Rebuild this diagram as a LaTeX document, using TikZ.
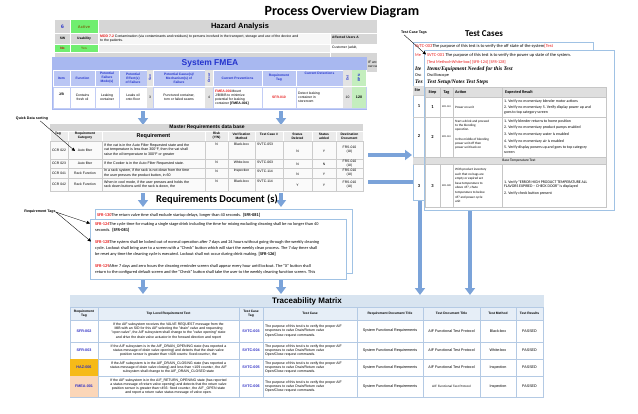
\documentclass[tikz,border=0pt]{standalone}
\usepackage{fontspec}
\setmainfont{Liberation Sans}
\newfontfamily\calib{Carlito}
\newfontfamily\tnr{Liberation Serif}
\usepackage{tikz}
\usetikzlibrary{arrows.meta, positioning, calc}
\definecolor{freccia}{RGB}{123,163,217}
\definecolor{hazgrigio}{RGB}{214,214,214}
\definecolor{hazverde}{RGB}{112,238,112}
\definecolor{hazblu}{RGB}{30,40,200}
\definecolor{fmeafondo}{RGB}{168,184,240}
\definecolor{fmeatesta}{RGB}{186,198,244}
\definecolor{fmeablu}{RGB}{36,52,205}
\definecolor{tagrosso}{RGB}{232,28,28}
\definecolor{tagblu}{RGB}{44,44,196}
\definecolor{bordodoc}{RGB}{160,194,228}
\definecolor{tracefondo}{RGB}{216,228,240}
\definecolor{tracetesta}{RGB}{230,238,247}
\definecolor{tracebordo}{RGB}{180,202,228}
\definecolor{hazarancio}{RGB}{246,186,24}
\definecolor{pesca}{RGB}{251,214,184}
\definecolor{rpnverde}{RGB}{196,238,190}
\newcommand{\fsz}[2]{\fontsize{#1}{#2}\selectfont}
\newcommand{\rosso}[1]{\textcolor{tagrosso}{#1}}
\tikzset{
  bigarrow/.style={line width=3.2pt, freccia, -{Triangle[width=10pt,length=7pt]}},
  tagline/.style={line width=0.35pt, black, -{Triangle[width=3.2pt,length=3.2pt]}},
  txt/.style={inner sep=0pt, font=\fsz{3.4}{4.1}, align=center},
  ltxt/.style={txt, align=left, anchor=west},
  hdr/.style={txt, font=\bfseries\fsz{3.3}{3.9}},
  lbl/.style={inner sep=0pt, font=\bfseries\fsz{3.6}{4.2}},
  doctxt/.style={inner sep=0pt, font=\calib\fsz{4.3}{6}, align=left, anchor=north west},
  tctxt/.style={inner sep=0pt, font=\calib\fsz{4.5}{5.5}, align=left, anchor=west},
  tcsmall/.style={inner sep=0pt, font=\calib\fsz{3.3}{4}, align=left, anchor=north west},
  tcexp/.style={inner sep=0pt, font=\calib\fsz{3.9}{4.8}, align=left, anchor=north west},
  docbox/.style={draw=bordodoc, fill=white, line width=0.6pt},
}

\begin{document}
\begin{tikzpicture}[x=1pt, y=-1pt]
    \fill[white] (0,0) rectangle (638,413);
    \useasboundingbox (0,0) rectangle (638,413);

    % titolo
    \node[font=\calib\bfseries\fsz{14}{16}] (titolo) at (342,12) {Process Overview Diagram};

    % Hazard Analysis (dietro)
    \begin{scope}
        \clip (55,20) rectangle (377,72);
        \fill[hazgrigio] (55,20) rectangle (377,72);
        \fill[hazverde] (70,20) rectangle (98,33);
        \fill[hazverde] (55,44) rectangle (98,52);
        \fill[gray!6] (98,33) rectangle (330,44);
        \fill[gray!14] (98,44) rectangle (330,52);
        \fill[white] (330,44) rectangle (377,52);
        \draw[white, line width=0.6pt] (55,33) -- (377,33) (55,44) -- (377,44) (55,52) -- (377,52)
            (70,20) -- (70,52) (98,20) -- (98,52) (330,33) -- (330,72);
        \node[font=\bfseries\fsz{5}{6}, hazblu] (hnum) at (62.5,27) {6};
        \node[font=\bfseries\fsz{4}{5}, olive!80!black] (hatt) at (84,27) {Active};
        \node[font=\bfseries\fsz{7.5}{9}] (htit) at (240,27) {Hazard Analysis};
        \node[hdr] (hsw) at (62.5,38.5) {SW};
        \node[hdr] (husa) at (84,38.5) {Usability};
        \node[ltxt, font=\fsz{3.5}{4.6}] (hdesc) at (100,38.5) {\rosso{\textbf{MDD 7.2}} Contamination (via contaminants and residues) to persons involved in the transport, storage and use of the device and\\to the patients.};
        \node[hdr, anchor=west] (hutenti) at (332,37.5) {Affected Users A};
        \node[ltxt] (hcliente) at (332,48) {Customer (adult, };
        \node[hdr, red!75!black] (hno) at (62.5,48) {No};
        \node[hdr, olive!80!black] (hsi) at (84,48) {Yes};
        \node[ltxt] (hresto) at (368,64) {IF arc\\ow ca};
    \end{scope}

    % System FMEA (davanti)
    \fill[fmeafondo] (52,57) rectangle (367,110);
    \node[font=\bfseries\fsz{8.5}{10}, fmeablu] (ftit) at (210,63.5) {System FMEA};
    \foreach \xa/\xb in {53/70,70/95,95/119,119/147,147/153,153/205,205/213,213/262,262/296,296/343,343/352,352/366}{
        \draw[white, fill=fmeatesta, line width=0.5pt] (\xa,70) rectangle (\xb,86);
        \draw[fmeafondo!70!white, fill=white, line width=0.5pt] (\xa,87) rectangle (\xb,108);
    }
    \foreach \xa/\xb in {147/153,205/213,343/352}{
        \fill[gray!22] (\xa+0.3,70.3) rectangle (\xb-0.3,85.7);
        \fill[gray!22] (\xa+0.3,87.3) rectangle (\xb-0.3,107.7);
    }
    \fill[rpnverde] (352.3,70.3) rectangle (365.7,85.7);
    \fill[rpnverde] (352.3,87.3) rectangle (365.7,107.7);
    \begin{scope}[every node/.style={hdr, fmeablu}]
        \node (fh1) at (61.5,78) {Item};
        \node (fh2) at (82.5,78) {Function};
        \node (fh3) at (107,78) {Potential\\Failure\\Mode(s)};
        \node (fh4) at (133,78) {Potential\\Effect(s)\\of Failure};
        \node[rotate=90] (fh5) at (150,78) {Sev};
        \node (fh6) at (179,78) {Potential Cause(s)/\\Mechanism(s) of\\Failure};
        \node[rotate=90] (fh7) at (209,78) {Occur};
        \node (fh8) at (237.5,78) {Current Preventions};
        \node (fh9) at (279,78) {Requirement\\Tag};
        \node (fh10) at (319.5,73.5) {Current Detections};
        \node[rotate=90] (fh11) at (347.5,78) {Det};
        \node[rotate=90] (fh12) at (359,78) {RPN};
    \end{scope}
    \node[txt, font=\bfseries\fsz{3.4}{4}] (fd1) at (61.5,94) {J/B};
    \node[txt] (fd2) at (82.5,97.5) {Contains\\fresh oil};
    \node[txt] (fd3) at (107,97.5) {Leaking\\container};
    \node[txt] (fd4) at (133,97.5) {Leaks oil\\onto floor};
    \node[txt] (fd5) at (150,97.5) {3};
    \node[txt] (fd6) at (179,97.5) {Punctured container,\\torn or failed seams};
    \node[txt] (fd7) at (209,97.5) {4};
    \node[ltxt] (fd8) at (215,97.5) {\rosso{\textbf{FMEA-001}}Mount\\J/B/B/B to minimize\\potential for leaking\\container \textbf{[FMEA-001]}};
    \node[txt, font=\bfseries\fsz{3.4}{4}, tagrosso] (fd9) at (279,97.5) {SFR-010};
    \node[ltxt] (fd10) at (298,97.5) {Detect leaking\\container in\\storeroom};
    \node[txt] (fd11) at (347.5,97.5) {10};
    \node[txt, font=\bfseries\fsz{3.6}{4}] (fd12) at (359,97.5) {120};

    % frecce FMEA -> database
    \coordinate (fa1) at (143,111); \coordinate (fa2) at (143,125);
    \coordinate (fb1) at (281,111); \coordinate (fb2) at (281,125);
    \draw[bigarrow] (fa1) -- (fa2);
    \draw[bigarrow] (fb1) -- (fb2);

    % Master Requirements data base
    \fill[gray!32] (50,124) rectangle (363,191);
    \node[font=\bfseries\fsz{5}{6}] (mtit) at (207,127.5) {Master Requirements data base};
    \foreach \xa/\xb in {50/68,68/102,102/205,205/228,228/255,255/283,283/312,312/336,336/363}{
        \draw[white, fill=gray!16, line width=0.4pt] (\xa,131) rectangle (\xb,141);
        \foreach \ya/\yb in {141/159,159/168,168/178,178/191}
            \draw[gray!40, fill=gray!4, line width=0.4pt] (\xa,\ya) rectangle (\xb,\yb);
    }
    \node[hdr] (mh1) at (58,133.5) {Tag};
    \node[hdr] (mh2) at (85,136) {Requirement\\Category};
    \node[hdr, font=\bfseries\fsz{5.5}{6}] (mh3) at (153.5,136) {Requirement};
    \node[hdr] (mh4) at (216.5,136) {Risk\\(Y/N)};
    \node[hdr] (mh5) at (241.5,136) {Verification\\Method};
    \node[hdr] (mh6) at (269,134) {Test Case \#};
    \node[hdr] (mh7) at (297.5,136) {Status\\Deleted};
    \node[hdr] (mh8) at (324,136) {Status\\added};
    \node[hdr] (mh9) at (349.5,136) {Destination\\Document};
    \foreach \yc/\yt/\tg/\ct/\req/\vm/\tc/\sd/\sa [count=\i] in {
        150/144.5/CCR 022/Auto filter/{If the vat is in the Auto Filter Requested state and the\\vat temperature is less than 300°F, then the vat shall\\raise the oil temperature to 300°F or greater}/Black-box/SVTC-053/N/Y,
        163.5/162/CCR 023/Auto filter/{If the Cooker is in the Auto Filter Requested state.}/White-box/SVTC-063/N/N,
        173/171/CCR 041/Rack Function/{In a rack system, if the rack is not down from the time\\the user presses the product button, in 60}/Inspection/SVTC-114/N/Y,
        184.5/181/CCR 042/Rack Function/{When in cool mode, if the user presses and holds the\\rack down buttons until the rack is down, the}/Black-box/SVTC-114/Y/Y}{
        \node[txt] (mt\i) at (59,\yc) {\tg};
        \node[txt] (mc\i) at (85,\yc) {\ct};
        \node[ltxt, font=\fsz{3.6}{4.3}] (mr\i) at (104,\yc) {\req};
        \node[txt] (mk\i) at (216.5,\yt) {N};
        \node[txt] (mv\i) at (241.5,\yt) {\vm};
        \node[ltxt] (mn\i) at (257,\yt) {\tc};
        \node[txt] (md\i) at (297.5,\yc+1) {\sd};
        \node[txt] (ma\i) at (324,\yc+1) {\sa};
        \node[txt] (mf\i) at (349.5,\yc) {FRS-010\\(UI)};
    }

    % etichetta ordinamento
    \node[lbl] (qds) at (32,119) {Quick Data sorting};
    \coordinate (qdsfine) at (75,151);
    \draw[tagline] ([xshift=-8pt]qds.south east) -- (qdsfine);

    % frecce database -> documenti e test
    \coordinate (ma1) at (143,193); \coordinate (ma2) at (143,207);
    \coordinate (mb1) at (281,193); \coordinate (mb2) at (281,207);
    \draw[bigarrow] (ma1) -- (ma2);
    \draw[bigarrow] (mb1) -- (mb2);
    \coordinate (ha1) at (368,155); \coordinate (ha2) at (412,155);
    \coordinate (hb1) at (368,182); \coordinate (hb2) at (423,182);
    \draw[bigarrow] (ha1) -- (ha2);
    \draw[bigarrow] (hb1) -- (hb2);

    % Requirements Document (s)
    \node[font=\calib\bfseries\fsz{10.5}{12}] (rdtit) at (217,199) {Requirements Document (s)};
    \draw[docbox] (95,209) rectangle (352,273);
    \node[doctxt] (rd0) at (97,213.5) {\rosso{\textbf{SFR-130}}The return valve time shall exclude startup delays, longer than 40 seconds.\ \ \textbf{[SFR-081]}};
    \draw[docbox] (90,219) rectangle (346,279);
    \node[doctxt] (rd1) at (95,222) {\rosso{\textbf{SFR-124}}The cycle time for making a single stage drink including the time for mixing excluding cleaning shall be no longer than 40\\seconds.\ \ \textbf{[SFR-081]}};
    \node[doctxt] (rd2) at (95,240.5) {\rosso{\textbf{SFR-128}}The system shall be locked out of normal operation after 7 days and 24 hours without going through the weekly cleaning\\cycle. Lockout shall bring user to a screen with a "Check" button which will start the weekly clean process. The 7 day timer shall\\be reset any time the cleaning cycle is executed. Lockout shall not occur during drink making. \textbf{[SFR-126]}};
    \node[doctxt] (rd3) at (95,264.5) {\rosso{\textbf{SFR-129}}After 7 days and zero hours the cleaning reminder screen shall appear every hour until lockout. The "X" button shall\\return to the configured default screen and the "Check" button shall take the user to the weekly cleaning function screen. This};

    % etichetta tag requisiti
    \node[lbl] (rtag) at (40,212) {Requirement Tags};
    \coordinate (rt1) at (90,223.5);
    \coordinate (rt2) at (91,241.5);
    \draw[tagline] (rtag.east) -- (rt1);
    \draw[tagline] (rtag.east) -- (rt2);

    % frecce documenti -> matrice
    \coordinate (ra1) at (143,280); \coordinate (ra2) at (143,294);
    \coordinate (rb1) at (281,280); \coordinate (rb2) at (281,294);
    \draw[bigarrow] (ra1) -- (ra2);
    \draw[bigarrow] (rb1) -- (rb2);

    % Test Cases
    \node[lbl] (tctag) at (414,33) {Test Case Tags};
    \node[font=\calib\bfseries\fsz{9}{11}] (tctit) at (484,34) {Test Cases};
    % caso di test dietro (visibile solo il bordo)
    \draw[docbox] (413,42) rectangle (593,200);
    \node[tctxt] (tb1) at (415,46.5) {\rosso{SVTC-003}The purpose of this test is to verify the off state of the system\rosso{[Test}};
    \node[tctxt, font=\calib\fsz{4.2}{5}] (tb2) at (415,55) {\rosso{Me}};
    \node[tctxt, font=\tnr\bfseries\itshape\fsz{5.5}{6}] (tb3) at (415,69) {Ite};
    \node[tctxt, font=\calib\fsz{4.3}{5}] (tb4) at (415,75.5) {Osc};
    \node[tctxt, font=\tnr\bfseries\itshape\fsz{5.5}{6}] (tb5) at (415,82) {Tes};
    \fill[gray!25] (413,86) rectangle (592,95);
    \fill[gray!25] (413,157) rectangle (592,164);
    \draw[gray!40, line width=0.4pt] (413,95) -- (592,95) (413,117) -- (592,117) (413,157) -- (592,157) (413,164) -- (592,164);
    \node[tctxt, font=\calib\bfseries\fsz{4.2}{5}] (tb6) at (414.5,90.5) {Ste};
    \node[inner sep=0pt, font=\calib\bfseries\fsz{4.5}{5}] (tb7) at (419,106) {1};
    \node[inner sep=0pt, font=\calib\bfseries\fsz{4.5}{5}] (tb8) at (419,136) {2};
    \node[inner sep=0pt, font=\calib\bfseries\fsz{4.5}{5}] (tb9) at (419,186) {3};

    % caso di test davanti
    \draw[docbox] (424,50) rectangle (614,210);
    \node[tctxt] (tf1) at (427,55) {\rosso{SVTC-001} The purpose of this test is to verify the power up state of the system.};
    \node[tctxt, tagrosso, font=\calib\fsz{4.2}{5}] (tf2) at (427,62) {[Test Method=White-box] [SFR-124] [SFR-128]};
    \node[tctxt, font=\tnr\bfseries\itshape\fsz{5.5}{6}] (tf3) at (427,69) {Items/Equipment Needed for this Test};
    \node[tctxt, font=\calib\fsz{4.3}{5}] (tf4) at (427,75.5) {Oscilloscope};
    \node[tctxt, font=\tnr\bfseries\itshape\fsz{5.5}{6}] (tf5) at (427,82) {Test Setup/Notes Test Steps};
    \fill[gray!25] (425,87) rectangle (606,97);
    \fill[gray!25] (425,157) rectangle (606,164);
    \draw[gray!45, line width=0.4pt] (425,87) rectangle (606,207);
    \foreach \yy in {97,117,157,164}
        \draw[gray!45, line width=0.4pt] (425,\yy) -- (606,\yy);
    \foreach \xx in {440,453,502}{
        \draw[gray!45, line width=0.4pt] (\xx,87) -- (\xx,157);
        \draw[gray!45, line width=0.4pt] (\xx,164) -- (\xx,207);
    }
    \node[inner sep=0pt, font=\calib\bfseries\fsz{4.2}{5}] (th1) at (432.5,92) {Step};
    \node[inner sep=0pt, font=\calib\bfseries\fsz{4.2}{5}] (th2) at (446.5,92) {Tag};
    \node[inner sep=0pt, font=\calib\bfseries\fsz{4.2}{5}, anchor=west] (th3) at (455,92) {Action};
    \node[inner sep=0pt, font=\calib\bfseries\fsz{4.2}{5}, anchor=west] (th4) at (505,92) {Expected Result};
    \node[inner sep=0pt, font=\calib\bfseries\fsz{4.5}{5}] (tn1) at (432.5,107) {1};
    \node[inner sep=0pt, font=\calib\bfseries\fsz{4.5}{5}] (tn2) at (432.5,137) {2};
    \node[inner sep=0pt, font=\calib\bfseries\fsz{4.5}{5}] (tn3) at (432.5,186) {3};
    \node[inner sep=0pt, font=\calib\fsz{2.6}{3}] (tg1) at (446.5,107) {SFR-124};
    \node[inner sep=0pt, font=\calib\fsz{2.6}{3}] (tg2) at (446.5,137) {SFR-124};
    \node[inner sep=0pt, font=\calib\fsz{2.6}{3}] (tg3) at (446.5,186) {SFR-128};
    \node[tcsmall, anchor=west] (ta1) at (455,107) {Power on unit};
    \node[tcsmall] (ta2) at (455,120.5) {Start a drink and proceed\\to the blending\\operation.\\[5.5pt]In the middle of blending\\power unit off then\\power unit back on};
    \node[tcsmall, font=\calib\fsz{3.3}{4.6}] (ta3) at (455,168) {With product inventory\\such that no bags are\\empty or expired set\\base temperature to\\above 4F?, chute\\temperature to below\\4F? and power cycle\\unit};
    \node[tcexp] (te1) at (504,99.3) {1. Verify no momentary blender motor actions\\[1.8pt]2. Verify no momentary 5. Verify display power up and\\goes to top category screen};
    \node[tcexp] (te2) at (504,119.3) {1. Verify blender returns to home position\\[1.8pt]2. Verify no momentary product pumps enabled\\[1.8pt]3. Verify no momentary water is enabled\\[1.8pt]4. Verify no momentary air is enabled\\[1.8pt]5. Verify display powers up and goes to top category\\screen};
    \node[inner sep=0pt, font=\calib\fsz{3.6}{4}] (tband) at (519,160.5) {Base Temperature Test};
    \node[tcexp] (te3) at (504,180.3) {1. Verify "ERROR HIGH PRODUCT TEMPERATURE ALL\\FLAVORS EXPIRED – CHECK DOOR" is displayed\\[1.8pt]2. Verify check button present};

    % etichetta tag test
    \coordinate (tcfine) at (426,54.5);
    \draw[tagline] ([xshift=-10pt]tctag.south) -- (tcfine);

    % frecce test -> matrice
    \coordinate (ta1s) at (420,201); \coordinate (ta1e) at (420,295);
    \coordinate (ta2s) at (470,211); \coordinate (ta2e) at (470,295);
    \draw[bigarrow] (ta1s) -- (ta1e);
    \draw[bigarrow] (ta2s) -- (ta2e);

    % Traceability Matrix
    \fill[tracefondo] (70,295) rectangle (544,397);
    \node[font=\bfseries\fsz{8}{9}] (trtit) at (307,301.5) {Traceability Matrix};
    \foreach \xa/\xb in {70/98,98/239,239/263,263/357,357/423,423/480,480/516,516/543}{
        \draw[tracebordo, fill=tracetesta, line width=0.5pt] (\xa,307) rectangle (\xb,320);
        \foreach \ya/\yb in {320/342,342/359,359/376,376/397}
            \draw[tracebordo, fill=white, line width=0.5pt] (\xa,\ya) rectangle (\xb,\yb);
    }
    \fill[hazarancio] (70.3,359.3) rectangle (97.7,375.7);
    \fill[pesca] (70.3,376.3) rectangle (97.7,396.7);
    \node[hdr] (xh1) at (84,313.5) {Requirement\\Tag};
    \node[hdr] (xh2) at (168.5,313.5) {Top Level Requirement Text};
    \node[hdr] (xh3) at (251,313.5) {Test Case\\Tag};
    \node[hdr] (xh4) at (310,313.5) {Test Case};
    \node[hdr] (xh5) at (390,313.5) {Requirement Document Title};
    \node[hdr] (xh6) at (451.5,313.5) {Test Document Title};
    \node[hdr] (xh7) at (498,313.5) {Test Method};
    \node[hdr] (xh8) at (529.5,313.5) {Test Results};
    \foreach \yc/\tg/\req/\tc/\tm/\fz [count=\i] in {
        331/SFR-002/{If the AIF subsystem receives the VALVE REQUEST message from the\\MIB with an SID for this AIF selecting the "drain" valve and requesting\\"open valve", the AIF subsystem shall change to the "valve opening" state\\and drive the drain valve actuator in the forward direction and report}/SVTC-003/Black-box/3.7,
        350.5/SFR-003/{If the AIF subsystem is in the AIF\_DRAIN\_OPENING state (has reported a\\status message of drain valve opening) and detects that the drain valve\\position sensor is greater than <408 counts: fixed counts>, the}/SVTC-004/White-box/3.7,
        367.5/HAZ-006/{If the AIF subsystem is in the AIF\_DRAIN\_CLOSING state (has reported a\\status message of drain valve closing) and less than <109 counts>, the AIF\\subsystem shall change to the AIF\_DRAIN\_CLOSED state}/SVTC-005/Inspection/3.7,
        386.5/FMEA-001/{If the AIF subsystem is in the AIF\_RETURN\_OPENING state (has reported\\a status message of return valve opening) and detects that the return valve\\position sensor is greater than <456: fixed counts>, the AIF \_OPEN state\\and report a return valve status message of valve open.}/SVTC-006/Inspection/3.1}{
        \node[txt, font=\bfseries\fsz{3.7}{4}, tagblu] (xt\i) at (84,\yc) {\tg};
        \node[txt, font=\fsz{3.5}{4.1}] (xr\i) at (168.5,\yc) {\req};
        \node[txt, font=\bfseries\fsz{3.7}{4}, tagblu] (xk\i) at (251,\yc) {\tc};
        \node[ltxt, font=\fsz{3.5}{4.1}] (xp\i) at (265,\yc) {The purpose of this test is to verify the proper AIF\\responses to valve Drain/Return valve\\Open/Close request commands.};
        \node[txt, font=\fsz{3.7}{4}] (xd\i) at (390,\yc) {System Functional Requirements};
        \node[txt, font=\fsz{\fz}{4}] (xf\i) at (451.5,\yc) {AIF Functional Test Protocol};
        \node[txt, font=\fsz{3.7}{4}] (xm\i) at (498,\yc) {\tm};
        \node[txt, font=\fsz{3.7}{4}] (xs\i) at (529.5,\yc) {PASSED};
    }
\end{tikzpicture}
\end{document}
